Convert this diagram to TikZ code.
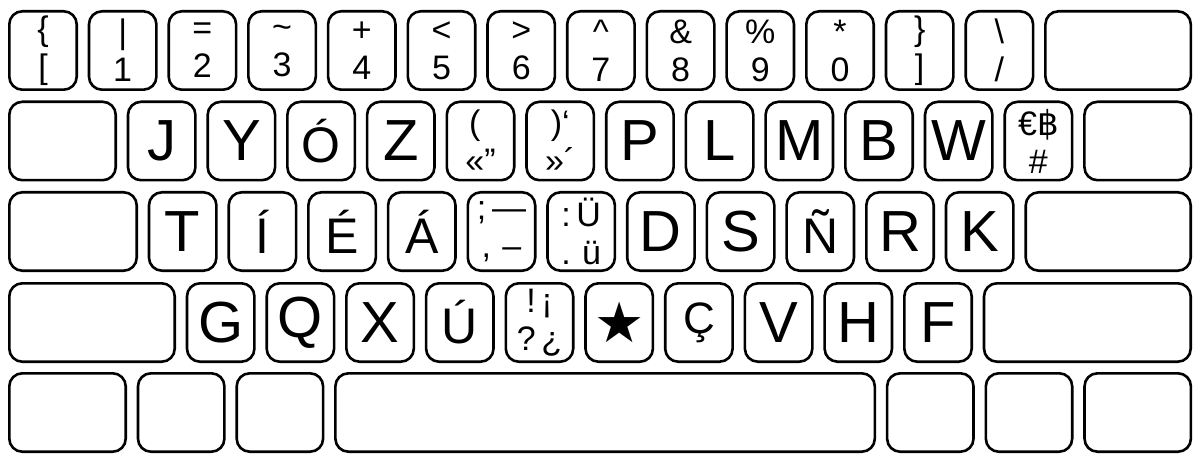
\documentclass[tikz,border=0pt]{standalone}
\usepackage{fontspec}
\setmainfont{Liberation Sans}
\newfontfamily\symfont{DejaVu Sans}
\usetikzlibrary{positioning}

\begin{document}
\begin{tikzpicture}[x=1pt,y=1pt,line width=2.6pt,
  key/.style={draw,rounded corners=13pt,inner sep=0pt,outer sep=0pt,minimum width=67.4pt,minimum height=78.4pt,font=\fontsize{58}{58}\selectfont},
  acc/.style={key,font=\fontsize{50}{50}\selectfont},
  dual/.style={key,align=center,font=\fontsize{34}{38}\selectfont},
  quad/.style={key,align=center,font=\fontsize{34}{38}\selectfont}]
  \path[fill=white] (0,0) rectangle (1201,464);
  \useasboundingbox (0,0) rectangle (1201,464);

  % number row
  \node[dual] (r1_1) at (43,413.5) {\{\\{[}};
  \node[dual] (r1_2) [right=12.3pt of r1_1] {|\\1};
  \node[dual] (r1_3) [right=12.3pt of r1_2] {=\\2};
  \node[dual] (r1_4) [right=12.3pt of r1_3] {\textasciitilde\\3};
  \node[dual] (r1_5) [right=12.3pt of r1_4] {+\\4};
  \node[dual] (r1_6) [right=12.3pt of r1_5] {<\\5};
  \node[dual] (r1_7) [right=12.3pt of r1_6] {>\\6};
  \node[dual] (r1_8) [right=12.3pt of r1_7] {\textasciicircum\\7};
  \node[dual] (r1_9) [right=12.3pt of r1_8] {\&\\8};
  \node[dual] (r1_10) [right=12.3pt of r1_9] {\%\\9};
  \node[dual] (r1_11) [right=12.3pt of r1_10] {*\\0};
  \node[dual] (r1_12) [right=12.3pt of r1_11] {\}\\{]}};
  \node[dual] (r1_13) [right=12.3pt of r1_12] {\textbackslash\\/};
  \node[key,minimum width=145.4pt] (r1_14) [right=12.3pt of r1_13] {};

  % top letter row
  \node[key,minimum width=106.4pt] (r2_0) at (62.5,323) {};
  \node[key] (r2_1) [right=12.3pt of r2_0] {J};
  \node[key] (r2_2) [right=12.3pt of r2_1] {Y};
  \node[acc] (r2_3) [right=12.3pt of r2_2] {Ó};
  \node[key] (r2_4) [right=12.3pt of r2_3] {Z};
  \node[dual] (r2_5) [right=12.3pt of r2_4] {(\phantom{"}\\«"};
  \node[dual] (r2_6) [right=12.3pt of r2_5] {)`\\»´};
  \node[key] (r2_7) [right=12.3pt of r2_6] {P};
  \node[key] (r2_8) [right=12.3pt of r2_7] {L};
  \node[key] (r2_9) [right=12.3pt of r2_8] {M};
  \node[key] (r2_10) [right=12.3pt of r2_9] {B};
  \node[key] (r2_11) [right=12.3pt of r2_10] {W};
  \node[dual] (r2_12) [right=12.3pt of r2_11] {€{\symfont ฿}\\\#};
  \node[key,minimum width=106.4pt] (r2_13) [right=12.3pt of r2_12] {};

  % home row
  \node[key,minimum width=127.4pt] (r3_0) at (73,232.5) {};
  \node[key] (r3_1) [right=12.3pt of r3_0] {T};
  \node[acc] (r3_2) [right=12.3pt of r3_1] {Í};
  \node[acc] (r3_3) [right=12.3pt of r3_2] {É};
  \node[acc] (r3_4) [right=12.3pt of r3_3] {Á};
  \node[quad] (r3_5) [right=12.3pt of r3_4] {;\,—\\,\,\,–};
  \node[quad] (r3_6) [right=12.3pt of r3_5] {:\,Ü\\.\,\,ü};
  \node[key] (r3_7) [right=12.3pt of r3_6] {D};
  \node[key] (r3_8) [right=12.3pt of r3_7] {S};
  \node[acc] (r3_9) [right=12.3pt of r3_8] {Ñ};
  \node[key] (r3_10) [right=12.3pt of r3_9] {R};
  \node[key] (r3_11) [right=12.3pt of r3_10] {K};
  \node[key,minimum width=165pt] (r3_12) [right=12.3pt of r3_11] {};

  % bottom letter row
  \node[key,minimum width=165.4pt] (r4_0) at (92,141.5) {};
  \node[key] (r4_1) [right=12.3pt of r4_0] {G};
  \node[key] (r4_2) [right=12.3pt of r4_1] {Q};
  \node[key] (r4_3) [right=12.3pt of r4_2] {X};
  \node[acc] (r4_4) [right=12.3pt of r4_3] {Ú};
  \node[quad] (r4_5) [right=12.3pt of r4_4] {!\,¡\\?\,¿};
  \node[key,font=\fontsize{56}{56}\symfont] (r4_6) [right=12.3pt of r4_5] {★};
  \node[acc,font=\fontsize{44}{44}\selectfont] (r4_7) [right=12.3pt of r4_6] {Ç};
  \node[key] (r4_8) [right=12.3pt of r4_7] {V};
  \node[key] (r4_9) [right=12.3pt of r4_8] {H};
  \node[key] (r4_10) [right=12.3pt of r4_9] {F};
  \node[key,minimum width=206.7pt] (r4_11) [right=12.3pt of r4_10] {};

  % space row
  \node[key,minimum width=116.4pt] (r5_0) at (67.5,51.5) {};
  \node[key,minimum width=86.4pt] (r5_1) [right=12.3pt of r5_0] {};
  \node[key,minimum width=86.4pt] (r5_2) [right=12.3pt of r5_1] {};
  \node[key,minimum width=539.4pt] (r5_3) [right=12.3pt of r5_2] {};
  \node[key,minimum width=86.4pt] (r5_4) [right=12.3pt of r5_3] {};
  \node[key,minimum width=86.4pt] (r5_5) [right=12.3pt of r5_4] {};
  \node[key,minimum width=106.4pt] (r5_6) [right=12.3pt of r5_5] {};
\end{tikzpicture}
\end{document}
